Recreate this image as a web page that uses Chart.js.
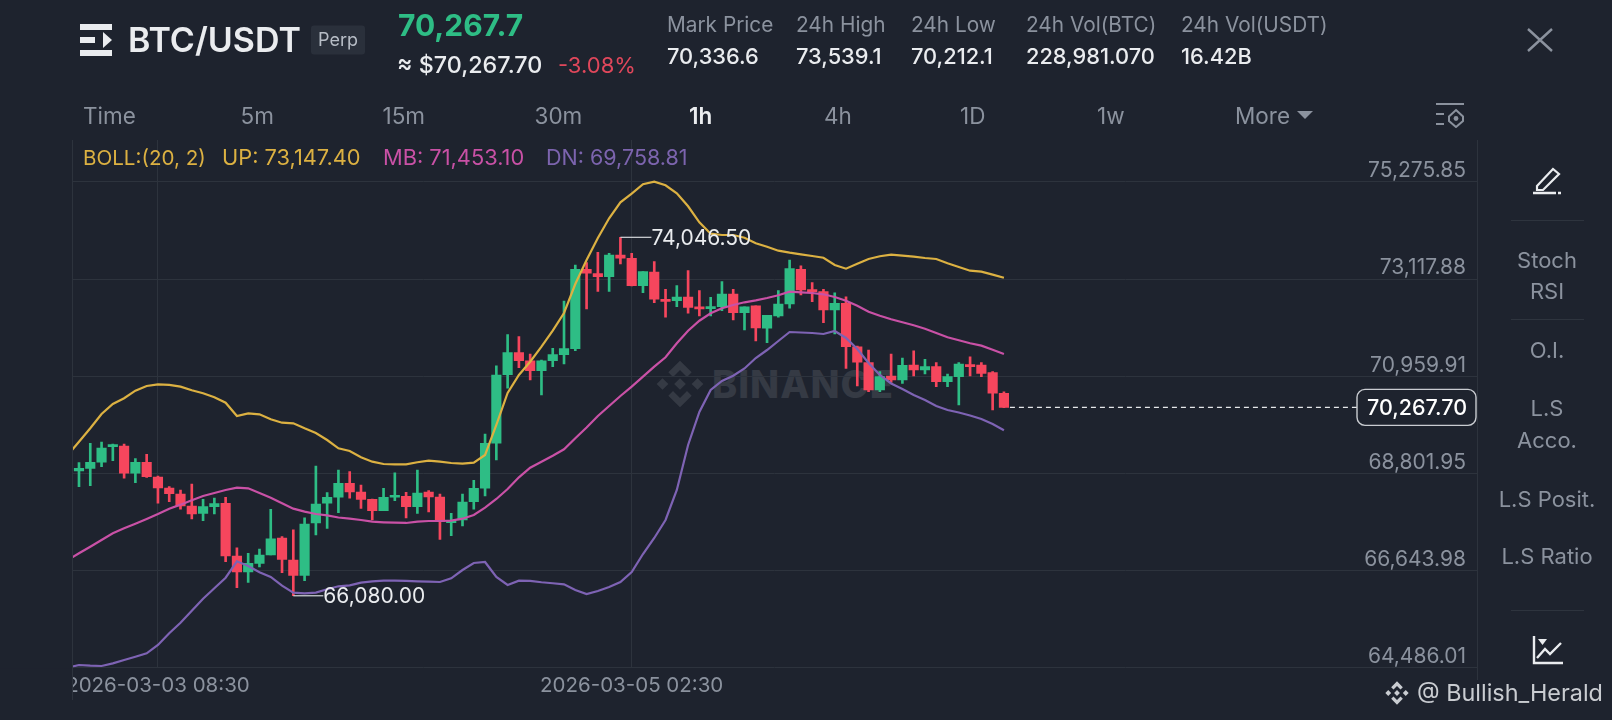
<!DOCTYPE html>
<html>
<head>
<meta charset="utf-8">
<title>BTC/USDT Perp</title>
<script src="https://cdn.jsdelivr.net/npm/chart.js@4"></script>
<style>
html,body{margin:0;padding:0;background:#1e232e;width:1612px;height:720px;overflow:hidden;font-family:Inter,"Noto Sans",sans-serif;}
#wm{position:absolute;left:0;top:0;z-index:0;}
canvas{position:absolute;left:0;top:0;z-index:1;}
.t{position:absolute;white-space:nowrap;line-height:1;transform:translateY(-50%);z-index:2;}
.c{transform:translate(-50%,-50%);text-align:center;}
.g{color:#8b929e;font-size:20.8px;}
.w{color:#eaecef;font-size:21.8px;font-weight:500;}
.tab{font-size:22.5px;}
.side{font-size:22px;}
.sep{position:absolute;left:1511px;width:73px;height:1px;background:#2e343e;z-index:2;}
svg{position:absolute;z-index:2;}
</style>
</head>
<body>
<div class="t" style="left:128px;top:40px;font-size:34px;font-weight:600;color:#eaecef;">BTC/USDT</div>
<div class="t" style="left:311px;top:39.5px;width:54px;height:29px;background:#2a303b;border-radius:3px;"></div>
<div class="t c" style="left:338px;top:39.5px;font-size:18px;color:#b7bdc6;">Perp</div>
<div class="t" style="left:398px;top:25px;font-size:30px;font-weight:700;color:#2ebd85;">70,267.7</div>
<div class="t w" style="left:397px;top:65px;font-size:23.3px;">≈ $70,267.70</div>
<div class="t" style="left:558px;top:65px;font-size:22px;color:#e0475b;">-3.08%</div>
<div class="t g" style="left:667px;top:25px;">Mark Price</div><div class="t w" style="left:667px;top:57px;">70,336.6</div>
<div class="t g" style="left:796px;top:25px;">24h High</div><div class="t w" style="left:796px;top:57px;">73,539.1</div>
<div class="t g" style="left:911px;top:25px;">24h Low</div><div class="t w" style="left:911px;top:57px;">70,212.1</div>
<div class="t g" style="left:1026px;top:25px;">24h Vol(BTC)</div><div class="t w" style="left:1026px;top:57px;">228,981.070</div>
<div class="t g" style="left:1181px;top:25px;">24h Vol(USDT)</div><div class="t w" style="left:1181px;top:57px;">16.42B</div>

<div class="t g tab" style="left:83px;top:116px;">Time</div>
<div class="t g tab" style="left:240.5px;top:116px;">5m</div>
<div class="t g tab" style="left:382.500px;top:116px;">15m</div>
<div class="t g tab" style="left:534.500px;top:116px;">30m</div>
<div class="t tab" style="left:689px;top:116px;font-weight:600;color:#eaecef;">1h</div>
<div class="t g tab" style="left:824px;top:116px;">4h</div>
<div class="t g tab" style="left:960px;top:116px;">1D</div>
<div class="t g tab" style="left:1097px;top:116px;">1w</div>
<div class="t g tab" style="left:1235px;top:116px;">More</div>

<div class="t" style="left:83px;top:158px;font-size:20.6px;color:#dcb142;">BOLL:(20, 2)</div>
<div class="t" style="left:222px;top:158px;font-size:21.8px;color:#dcb142;">UP: 73,147.40</div>
<div class="t" style="left:383px;top:158px;font-size:21.8px;color:#c951a6;">MB: 71,453.10</div>
<div class="t" style="left:546px;top:158px;font-size:21.5px;color:#7c64ae;">DN: 69,758.81</div>

<div class="t c g side" style="left:1547px;top:260px;">Stoch</div>
<div class="t c g side" style="left:1547px;top:291px;">RSI</div>
<div class="t c g side" style="left:1547px;top:350px;">O.I.</div>
<div class="t c g side" style="left:1547px;top:408px;">L.S</div>
<div class="t c g side" style="left:1547px;top:440px;">Acco.</div>
<div class="t c g side" style="left:1547px;top:499px;">L.S Posit.</div>
<div class="t c g side" style="left:1547px;top:556px;">L.S Ratio</div>
<div class="sep" style="top:220px;"></div><div class="sep" style="top:319px;"></div><div class="sep" style="top:610px;"></div>
<div class="t" style="left:1417px;top:693px;font-size:23.4px;color:#c9ccd1;">@ Bullish_Herald</div>

<svg style="left:80px;top:24px;" width="32" height="32" viewBox="0 0 32 32"><path fill="#eaecef" d="M0 0h32v6H0zM0 26h32v6H0zM0 13h15v6H0zM23 8l9 8-9 8z"/></svg>
<svg style="left:1527px;top:28px;" width="26" height="24" viewBox="0 0 26 24"><path stroke="#8b929e" stroke-width="2.4" fill="none" d="M1 1l24 22M25 1L1 23"/></svg>
<svg style="left:1297px;top:111px;" width="16" height="8" viewBox="0 0 16 8"><path fill="#8b929e" d="M0 0h16l-8 8z"/></svg>
<svg style="left:1436px;top:103px;" width="29" height="25" viewBox="0 0 29 25"><path fill="none" stroke="#8b929e" stroke-width="2" d="M0 1h28M0 11h8M0 21h8M20 7l7 6.500v4.500l-7 6-7-6v-4.500z"/><circle cx="20" cy="15.500" r="2.400" fill="#8b929e"/></svg>
<svg style="left:1533px;top:166px;" width="29" height="29" viewBox="0 0 29 29"><path fill="none" stroke="#eaecef" stroke-width="2.200" d="M4 20L20 3l6 5-16 16H4z"/><path stroke="#eaecef" stroke-width="2.400" d="M0 27h23M25 27h3"/></svg>
<svg style="left:1532px;top:636px;" width="31" height="29" viewBox="0 0 31 29"><path fill="none" stroke="#eaecef" stroke-width="2.400" d="M2 0v27h29M5 22l8-9 5 5 11-11"/><path fill="#eaecef" d="M6 3h9l-4.500 6z"/></svg>
<svg style="left:1383px;top:679px;" width="28" height="28" viewBox="0 0 24 24"><path fill="#c9ccd1" d="M12 2l5 5-2 2-3-3-3 3-2-2zM12 22l5-5-2-2-3 3-3-3-2 2zM2 12l2.500-2.500L7 12l-2.500 2.500zM22 12l-2.500-2.500L17 12l2.500 2.500zM12 9.500l2.500 2.500-2.500 2.500L9.500 12z"/></svg>

<div id="wm">
<svg style="left:652px;top:356px;z-index:0;" width="56" height="56" viewBox="0 0 24 24"><path fill="#353a44" d="M12 2l5 5-2 2-3-3-3 3-2-2zM12 22l5-5-2-2-3 3-3-3-2 2zM2 12l2.500-2.500L7 12l-2.500 2.500zM22 12l-2.500-2.500L17 12l2.500 2.500zM12 9.500l2.500 2.500-2.500 2.500L9.500 12z"/></svg>
<div class="t" style="left:712px;top:384px;font-size:38px;font-weight:800;letter-spacing:1px;color:#353a44;z-index:0;">BINANCE</div>
</div>

<canvas id="chart" width="1612" height="720" style="width:1612px;height:720px;"></canvas>

<script>
const yTickValues = [75275.85, 73117.88, 70959.91, 68801.95, 66643.98, 64486.01];
const xTickIndex = [7, 49];
const xTickLabels = ["2026-03-03 08:30", "2026-03-05 02:30"];
const lastPrice = 70267.70;
const highMark = { index: 48, price: 74046.50 };
const lowMark = { index: 19, price: 66080.00 };

const opens = [68853,68913,69047,69393,69409,68802,69047,68720,68476,68342,68076,67913,68060,68136,66964,66608,66801,66986,67364,66875,66535,67700,68136,68269,68580,68387,68224,67969,68269,68289,68060,68387,68276,67705,67764,68171,68469,69469,70993,71482,71304,71082,71304,71438,71571,73337,73239,73172,73654,73581,72971,73276,72669,72637,72720,72504,72460,72504,72786,72371,72526,72025,72298,72564,73337,72875,72838,72431,72580,71615,71260,70653,70964,70875,71209,71098,71171,70838,70949,71209,71209,71038,70580];
const highs = [69038,69469,69498,69453,69453,69127,69224,68742,68504,68431,68565,68225,68253,68269,67148,67024,67119,68002,67393,67548,67815,68964,68371,68875,68838,68542,68231,68469,68813,68380,68875,68416,68342,67913,68342,68647,69675,71193,71882,71838,71453,71320,71580,72631,73432,73483,73714,73692,74046.5,73692,73283,73505,72891,72971,73305,72860,72713,73060,72891,72504,72526,72313,72860,73543,73410,73038,72891,72815,72726,71631,71542,71060,71453,71364,71526,71335,71260,71009,71260,71393,71260,71060,70615];
const lows = [68504,68527,68949,69082,68691,68593,68713,68136,68171,68002,67787,67749,67898,66837,66259,66379,66719,66986,66593,66080,66415,67431,67579,67927,68247,68024,67764,67969,68193,67809,67913,67942,67335,67415,67631,68002,68298,69098,70691,71149,70875,70542,71171,71231,71526,72453,72846,72846,73454,72965,72816,72593,72269,72504,72360,72298,72298,72415,72209,71987,71742,71704,72269,72471,72764,72615,72149,71898,71135,70742,70615,70615,70824,70802,70964,71009,70727,70727,70320,70964,70949,70209,70260];
const closes = [68913,69047,69364,69438,68802,69047,68727,68476,68349,68076,67898,68060,68127,66964,66608,66801,66986,67348,66890,66535,67675,68120,68269,68580,68387,68224,67969,68269,68298,68060,68365,68276,67727,67742,68164,68469,69469,70987,71482,71304,71082,71304,71438,71571,73337,73248,73172,73654,73581,72971,73283,72669,72624,72720,72491,72453,72504,72786,72371,72504,72031,72313,72564,73349,72875,72838,72431,72580,71615,71269,70653,70949,70875,71202,71098,71171,70838,70949,71231,71171,71024,70580,70267.7];

// Bollinger bands: first value sits one candle left of the first full candle
const bandUp = [69209,69504,69802,70120,70342,70469,70638,70742,70780,70765,70727,70647,70580,70491,70371,70075,70135,70113,70002,69926,69913,69802,69698,69542,69358,69298,69158,69060,69009,69002,69002,69047,69082,69060,69031,69015,69038,69209,69876,70587,70987,71282,71615,71971,72364,73009,73543,74031,74469,74825,75016,75225,75283,75203,75025,74736,74380,74127,74098,74098,74038,73913,73838,73749,73705,73669,73631,73593,73432,73349,73460,73565,73625,73660,73638,73616,73587,73565,73469,73387,73305,73283,73216,73147.4];
const bandMid = [66875,67024,67171,67320,67468,67580,67682,67787,67898,68016,68105,68202,68298,68365,68431,68482,68469,68365,68260,68136,68016,67949,67898,67865,67820,67793,67764,67727,67713,67704,67698,67727,67742,67742,67749,67793,67876,68038,68231,68453,68713,68927,69060,69193,69335,69580,69820,70075,70298,70520,70727,70949,71171,71380,71691,71971,72193,72358,72469,72542,72602,72646,72698,72758,72838,72824,72809,72780,72720,72638,72526,72393,72304,72224,72158,72091,72016,71920,71825,71758,71691,71638,71549,71453.1];
const bandDn = [64481,64541,64526,64519,64579,64653,64726,64802,64986,65246,65482,65749,66015,66246,66482,66846,66742,66602,66498,66304,66149,66135,66149,66224,66291,66313,66371,66402,66415,66415,66409,66402,66393,66386,66469,66653,66809,66831,66498,66320,66415,66409,66380,66358,66335,66209,66120,66186,66275,66386,66608,67008,67364,67764,68431,69431,70164,70653,70853,70971,71131,71364,71542,71742,71942,71931,71920,71898,71965,71809,71565,71253,70987,70798,70676,70542,70431,70298,70209,70153,70087,70009,69898,69758.81];

const GREEN = "#2ebd85", RED = "#f6465d", GRID = "#2d333d", BG = "#1e232e";
const barColors = opens.map((o, i) => closes[i] >= o ? GREEN : RED);
const wicks = opens.map((_, i) => ({ x: i, y: [lows[i], highs[i]] }));
const bodies = opens.map((o, i) => ({ x: i, y: [o, closes[i]] }));
const band = arr => arr.map((v, i) => ({ x: i - 1, y: v }));
const lineDs = (label, arr, color) => ({ type: "line", label, data: band(arr), borderColor: color, borderWidth: 2.2, pointRadius: 0, tension: 0, order: 1 });

const overlay = {
  id: "overlay",
  afterDraw(chart) {
    const { ctx, chartArea: a, scales: { x, y } } = chart;
    ctx.save();
    // clip the first date label at the plot's left edge, then frame lines
    ctx.fillStyle = BG; ctx.fillRect(0, a.bottom + 1, a.left, 720 - a.bottom - 1);
    ctx.strokeStyle = GRID; ctx.lineWidth = 1;
    ctx.beginPath();
    ctx.moveTo(a.left + .5, a.top); ctx.lineTo(a.left + .5, 700);
    ctx.moveTo(a.right + .5, a.top); ctx.lineTo(a.right + .5, 680);
    ctx.stroke();

    ctx.font = "21px Inter"; ctx.textBaseline = "middle"; ctx.textAlign = "left";
    ctx.fillStyle = "#eaecef"; ctx.strokeStyle = "#d5d8dc"; ctx.lineWidth = 1.2;
    // high / low markers
    const hx = x.getPixelForValue(highMark.index), hy = y.getPixelForValue(highMark.price);
    ctx.beginPath(); ctx.moveTo(hx, hy); ctx.lineTo(hx + 31, hy); ctx.stroke();
    ctx.fillText(highMark.price.toLocaleString("en-US", { minimumFractionDigits: 2 }), hx + 31, hy + 1);
    const lx = x.getPixelForValue(lowMark.index), ly = y.getPixelForValue(lowMark.price);
    ctx.beginPath(); ctx.moveTo(lx, ly); ctx.lineTo(lx + 30, ly); ctx.stroke();
    ctx.fillText(lowMark.price.toLocaleString("en-US", { minimumFractionDigits: 2 }), lx + 30, ly + 1);

    // last price line + box
    const px = y.getPixelForValue(lastPrice), last = x.getPixelForValue(opens.length - 1);
    ctx.strokeStyle = "#e6e8ea"; ctx.lineWidth = 1.3; ctx.setLineDash([5, 4]);
    ctx.beginPath(); ctx.moveTo(last + 6, px); ctx.lineTo(a.right - 120, px); ctx.stroke();
    ctx.setLineDash([]);
    ctx.fillStyle = BG; ctx.strokeStyle = "#c9ccd1"; ctx.lineWidth = 1.4;
    ctx.beginPath(); ctx.roundRect(a.right - 120, px - 18, 119, 36, 8); ctx.fill(); ctx.stroke();
    ctx.fillStyle = "#ffffff"; ctx.textAlign = "center"; ctx.font = "500 21.5px Inter";
    ctx.fillText(lastPrice.toLocaleString("en-US", { minimumFractionDigits: 2 }), a.right - 60, px + 1);
    ctx.restore();
  }
};

new Chart(document.getElementById("chart"), {
  type: "bar",
  data: {
    datasets: [
      lineDs("UP", bandUp, "#dcb142"),
      lineDs("MB", bandMid, "#c951a6"),
      lineDs("DN", bandDn, "#7e63b4"),
      { label: "Body", data: bodies, backgroundColor: barColors, barThickness: 9.5, minBarLength: 2, grouped: false, order: 2 },
      { label: "Wick", data: wicks, backgroundColor: barColors, barThickness: 2, grouped: false, order: 3 }
    ]
  },
  options: {
    responsive: false,
    animation: false,
    events: [],
    devicePixelRatio: 1,
    layout: { padding: { left: 72, top: 140, right: 135, bottom: 0 } },
    plugins: { legend: { display: false }, tooltip: { enabled: false } },
    scales: {
      x: {
        type: "linear", offset: false, min: -0.62, max: 123.94,
        afterFit(s) { s.height = 52.5; },
        afterBuildTicks(s) { s.ticks = xTickIndex.map(v => ({ value: v })); },
        grid: { color: GRID, drawTicks: false, offset: false },
        border: { display: false },
        ticks: {
          autoSkip: false, maxRotation: 0, padding: 6, color: "#8b929e",
          font: { family: "Inter", size: 20.5 },
          callback: v => xTickLabels[xTickIndex.indexOf(v)]
        }
      },
      y: {
        position: "right", min: 64486.01, max: 76209,
        afterFit(s) { s.width = 0; },
        afterBuildTicks(s) { s.ticks = yTickValues.map(v => ({ value: v })); },
        grid: { color: GRID, drawTicks: false },
        border: { display: false },
        ticks: {
          mirror: true, padding: -11, labelOffset: -11, color: "#8b929e",
          font: { family: "Inter", size: 21 },
          callback: v => v.toLocaleString("en-US", { minimumFractionDigits: 2, maximumFractionDigits: 2 })
        }
      }
    }
  },
  plugins: [overlay]
});
</script>
</body>
</html>
